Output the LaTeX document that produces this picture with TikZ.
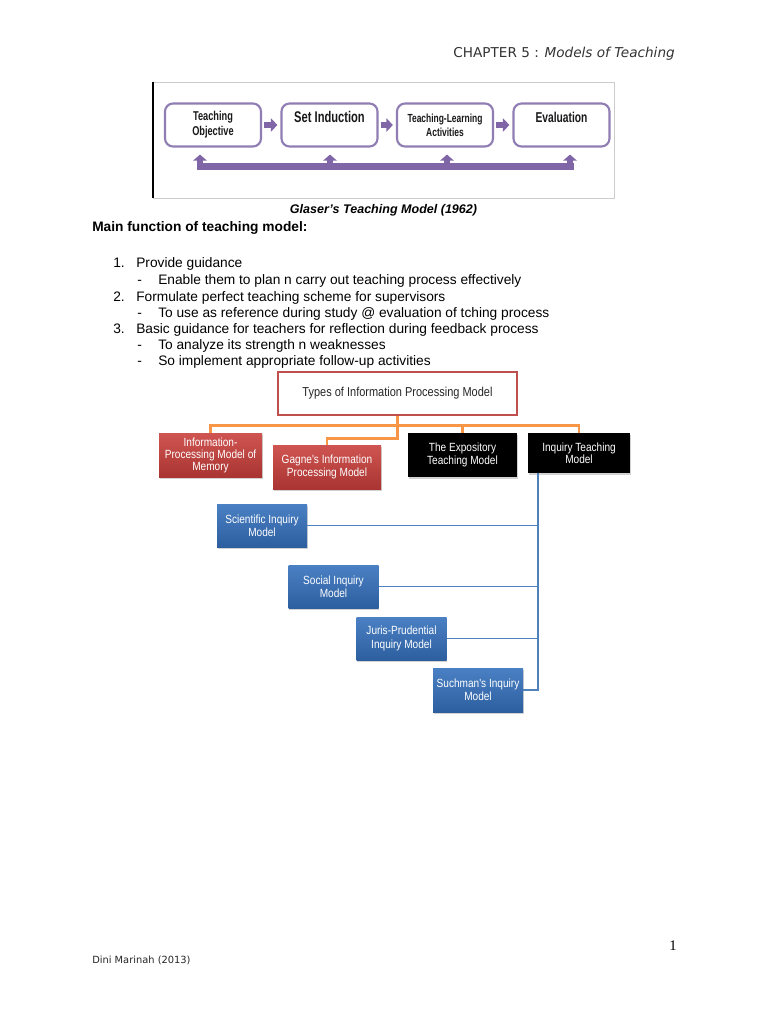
\documentclass[tikz,border=0pt]{standalone}
\usepackage{fontspec}
\setmainfont{Liberation Sans}
\newfontfamily\narrowfont[FakeStretch=0.85]{Liberation Sans}
\newfontfamily\condfont[FakeStretch=0.72]{Liberation Sans}
\newfontfamily\headfont{DejaVu Sans}
\newfontfamily\pagefont{Liberation Serif}
\usetikzlibrary{arrows.meta,positioning,shadows}

\definecolor{glaserpurple}{HTML}{8066A6}
\definecolor{glaserborder}{HTML}{8F7DB3}
\definecolor{ipred}{HTML}{C0504D}
\definecolor{ipredtop}{HTML}{CF5552}
\definecolor{ipredbot}{HTML}{A93431}
\definecolor{ipbluetop}{HTML}{4A80C4}
\definecolor{ipbluebot}{HTML}{2D5F9F}
\definecolor{iporange}{HTML}{F79646}
\definecolor{iplink}{HTML}{4F81BD}

\tikzset{
  bodytext/.style={anchor=base west, inner sep=0pt, font=\fontsize{10.3}{12}\selectfont},
  glaserbox/.style={draw=glaserborder, line width=1.6pt, rounded corners=6pt, fill=white,
    minimum width=72pt, minimum height=32.25pt, inner sep=1pt, align=center, text=black!90},
  fatarrow/.style={draw=glaserpurple, line width=4.5pt, -{Triangle[width=10pt,length=5pt]}},
  uparrow/.style={draw=glaserpurple, line width=4.2pt, -{Triangle[width=10pt,length=4.5pt]}},
  ipbox/.style={minimum height=33pt, inner sep=1pt, align=center, text=white,
    font=\narrowfont\fontsize{8.9}{10}\selectfont,
    drop shadow={shadow xshift=0.6pt, shadow yshift=-1.2pt, opacity=0.35}},
  redbox/.style={ipbox, top color=ipredtop, bottom color=ipredbot},
  darkbox/.style={ipbox, fill=black},
  bluebox/.style={ipbox, top color=ipbluetop, bottom color=ipbluebot,
    minimum width=67.5pt, minimum height=32.25pt},
  orangelink/.style={draw=iporange, line width=2.2pt},
  bluelink/.style={draw=iplink, line width=1.4pt},
}

\begin{document}
\begin{tikzpicture}[x=0.75pt, y=-0.75pt]
  % Page
  \fill[white] (0,0) rectangle (768,1024);
  \useasboundingbox (0,0) rectangle (768,1024);
  % Header
  \node (chap) [anchor=base east, inner sep=0pt, font=\headfont\fontsize{10.2}{12}\selectfont, text=black!80] at (675,58) {CHAPTER 5 : \textit{Models of Teaching}};

  % Glaser's model
  \draw[black!20, line width=0.6pt] (153,82) rectangle (614,198);
  \draw[black, line width=1.5pt] (153,82) -- (153,198);
  \node (tobj) [glaserbox, font=\condfont\bfseries\fontsize{9.6}{11}\selectfont] at (213,125) {Teaching\\Objective};
  \node (setind) [glaserbox, font=\condfont\bfseries\fontsize{11.6}{12.5}\selectfont] at (329.5,125) {Set Induction\\\mbox{}};
  \node (tlact) [glaserbox, font=\condfont\bfseries\fontsize{8.8}{10.5}\selectfont] at (445,125) {Teaching-Learning\\Activities};
  \node (evaln) [glaserbox, font=\condfont\bfseries\fontsize{10.7}{12}\selectfont] at (561.5,125) {Evaluation\\\mbox{}};
  \draw[fatarrow, shorten <=1.5pt, shorten >=2.25pt] (tobj) -- (setind);
  \draw[fatarrow, shorten <=1.5pt, shorten >=2.25pt] (setind) -- (tlact);
  \draw[fatarrow, shorten <=1.5pt, shorten >=2.25pt] (tlact) -- (evaln);
  % Feedback bar
  \coordinate (fb1) at (200,166);
  \coordinate (fb2) at (330,166);
  \coordinate (fb3) at (447,166);
  \coordinate (fb4) at (570,166);
  \draw[glaserpurple, line width=5.25pt, line cap=rect] (fb1) -- (fb4);
  \foreach \c/\b in {fb1/tobj, fb2/setind, fb3/tlact, fb4/evaln}
    \draw[uparrow, shorten >=5.25pt] (\c) -- (\c |- \b.south);
  \node (cap) [anchor=base, inner sep=0pt, font=\bfseries\itshape\fontsize{9.4}{11}\selectfont] at (383.5,213) {Glaser's Teaching Model (1962)};

  % Main function list
  \node (mainfn) [bodytext, font=\bfseries\fontsize{10.3}{12}\selectfont] at (92,231.5) {Main function of teaching model:};
  \foreach \n/\yy/\txt [count=\i] in {1./267.5/Provide guidance,
      2./301/Formulate perfect teaching scheme for supervisors,
      3./333/Basic guidance for teachers for reflection during feedback process}
  {
    \node (num\i) [bodytext] at (113,\yy) {\n};
    \node (item\i) [bodytext] at (136,\yy) {\txt};
  }
  \foreach \yy/\txt [count=\i] in {284.5/Enable them to plan n carry out teaching process effectively,
      317/To use as reference during study @ evaluation of tching process,
      349/To analyze its strength n weaknesses,
      365.5/So implement appropriate follow-up activities}
  {
    \node (dash\i) [bodytext] at (137,\yy) {-};
    \node (sub\i) [bodytext] at (158,\yy) {\txt};
  }

  % Information processing models
  \node (types) [draw=ipred, line width=1.9pt, fill=white, minimum width=179pt, minimum height=32pt, font=\narrowfont\fontsize{9.7}{11}\selectfont, text=black!85] at (397.5,393.5) {Types of Information Processing Model};
  \node (ipmem) [redbox, minimum width=77.25pt, font=\narrowfont\fontsize{8.9}{9}\selectfont] at (210.5,455) {Information-\\Processing Model of\\Memory};
  \node (gagne) [redbox, minimum width=81pt, font=\narrowfont\fontsize{8.9}{9.2}\selectfont] at (327,467) {Gagne's Information\\Processing Model};
  \node (expo) [darkbox, minimum width=81.75pt] at (462.5,455) {The Expository\\Teaching Model};
  \node (inquiry) [darkbox, minimum width=76.5pt, minimum height=30pt, font=\narrowfont\fontsize{8.9}{9.2}\selectfont] at (579,453) {Inquiry Teaching\\Model};
  \draw[orangelink] (types.south) -- ++(0,9) -| (ipmem.north);
  \draw[orangelink] (types.south) -- ++(0,9) -| (expo.north);
  \draw[orangelink] (types.south) -- ++(0,9) -| (inquiry.north);
  \draw[orangelink] (types.south) -- ++(0,22) -| (gagne.north);

  % Inquiry models
  \node (sci) [bluebox] at (262,525.5) {Scientific Inquiry\\Model};
  \node (social) [bluebox] at (333.5,586.5) {Social Inquiry\\Model};
  \node (juris) [bluebox] at (401.5,638.5) {Juris-Prudential\\Inquiry Model};
  \node (such) [bluebox, minimum height=33pt] at (478,690) {Suchman's Inquiry\\Model};
  \coordinate (trunk) at ([xshift=7.5pt]inquiry.south west);
  \foreach \b in {sci, social, juris, such}
    \draw[bluelink] (trunk) |- (\b.east);

  % Footer
  \node (author) [anchor=base west, inner sep=0pt, font=\headfont\fontsize{7.4}{9}\selectfont, text=black!85] at (92,963) {Dini Marinah (2013)};
  \node (pgno) [anchor=base east, inner sep=0pt, font=\pagefont\fontsize{11}{13}\selectfont] at (677,950) {1};
\end{tikzpicture}
\end{document}
